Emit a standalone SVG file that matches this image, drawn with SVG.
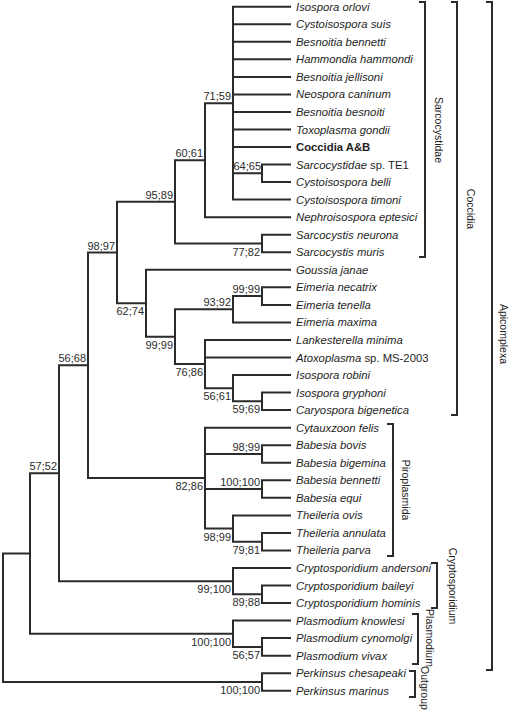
<svg xmlns="http://www.w3.org/2000/svg" width="510" height="713" viewBox="0 0 510 713">
<style>
.e{fill:none;stroke:#2b2b2b;stroke-width:2;stroke-linecap:square}
.t{font-family:"Liberation Sans",Arial,sans-serif;font-size:11.3px;font-style:italic;fill:#1e1e1e}
.u{font-style:normal}
.bold{font-style:normal;font-weight:bold}
.b{font-family:"Liberation Sans",Arial,sans-serif;font-size:11px;fill:#2b2b2b;text-anchor:end}
.g{font-family:"Liberation Sans",Arial,sans-serif;font-size:10.5px;fill:#1e1e1e;text-anchor:middle}
</style>
<rect width="510" height="713" fill="#fff"/>
<g id="connectors">
<path class="e" d="M233,6.7V199.6M233,6.7H290M233,24.2H290M233,41.8H290M233,59.3H290M233,76.9H290M233,94.4H290M233,111.9H290M233,129.5H290M233,147H290M233,199.6H290M233,173.35H262"/>
<path class="e" d="M262,164.6V182.1M262,164.6H290M262,182.1H290"/>
<path class="e" d="M205,103.15V217.2M205,103.15H233M205,217.2H290"/>
<path class="e" d="M262,234.7V252.3M262,234.7H290M262,252.3H290"/>
<path class="e" d="M175,160.2V243.5M175,160.2H205M175,243.5H262"/>
<path class="e" d="M117,201.85V303.25M117,201.85H175M117,303.25H146"/>
<path class="e" d="M146,269.8V336.7M146,269.8H290M146,336.7H175"/>
<path class="e" d="M175,309.25V364.1M175,309.25H233M175,364.1H205"/>
<path class="e" d="M233,296.1V322.4M233,296.1H262M233,322.4H290"/>
<path class="e" d="M262,287.3V304.9M262,287.3H290M262,304.9H290"/>
<path class="e" d="M205,340V388.2M205,340H290M205,357.5H290M205,388.2H233"/>
<path class="e" d="M233,375V401.35M233,375H290M233,401.35H262"/>
<path class="e" d="M262,392.6V410.1M262,392.6H290M262,410.1H290"/>
<path class="e" d="M88,252.55V478.1M88,252.55H117M88,478.1H205"/>
<path class="e" d="M205,427.7V528.5M205,427.7H290M205,453.95H262M205,489.05H262M205,528.5H233"/>
<path class="e" d="M262,445.2V462.7M262,445.2H290M262,462.7H290"/>
<path class="e" d="M262,480.3V497.8M262,480.3H290M262,497.8H290"/>
<path class="e" d="M233,515.4V541.65M233,515.4H290M233,541.65H262"/>
<path class="e" d="M262,532.9V550.4M262,532.9H290M262,550.4H290"/>
<path class="e" d="M59,365.3V581.15M59,365.3H88M59,581.15H233"/>
<path class="e" d="M233,568V594.3M233,568H290M233,594.3H262"/>
<path class="e" d="M262,585.5V603.1M262,585.5H290M262,603.1H290"/>
<path class="e" d="M30,473.2V633.75M30,473.2H59M30,633.75H233"/>
<path class="e" d="M233,620.6V646.9M233,620.6H290M233,646.9H262"/>
<path class="e" d="M262,638.1V655.7M262,638.1H290M262,655.7H290"/>
<path class="e" d="M3,553.5V682M3,553.5H30M3,682H262"/>
<path class="e" d="M262,673.2V690.8M262,673.2H290M262,690.8H290"/>
</g>
<g id="leaves" class="t">
<g id="leaf1"><text x="296" y="10.7">Isospora orlovi</text></g>
<g id="leaf2"><text x="296" y="28.2">Cystoisospora suis</text></g>
<g id="leaf3"><text x="296" y="45.8">Besnoitia bennetti</text></g>
<g id="leaf4"><text x="296" y="63.3">Hammondia hammondi</text></g>
<g id="leaf5"><text x="296" y="80.9">Besnoitia jellisoni</text></g>
<g id="leaf6"><text x="296" y="98.4">Neospora caninum</text></g>
<g id="leaf7"><text x="296" y="115.9">Besnoitia besnoiti</text></g>
<g id="leaf8"><text x="296" y="133.5">Toxoplasma gondii</text></g>
<g id="leaf9"><text x="296" y="151" class="bold">Coccidia A&amp;B</text></g>
<g id="leaf10"><text x="296" y="168.6">Sarcocystidae <tspan class="u">sp. TE1</tspan></text></g>
<g id="leaf11"><text x="296" y="186.1">Cystoisospora belli</text></g>
<g id="leaf12"><text x="296" y="203.6">Cystoisospora timoni</text></g>
<g id="leaf13"><text x="296" y="221.2">Nephroisospora eptesici</text></g>
<g id="leaf14"><text x="296" y="238.7">Sarcocystis neurona</text></g>
<g id="leaf15"><text x="296" y="256.3">Sarcocystis muris</text></g>
<g id="leaf16"><text x="296" y="273.8">Goussia janae</text></g>
<g id="leaf17"><text x="296" y="291.3">Eimeria necatrix</text></g>
<g id="leaf18"><text x="296" y="308.9">Eimeria tenella</text></g>
<g id="leaf19"><text x="296" y="326.4">Eimeria maxima</text></g>
<g id="leaf20"><text x="296" y="344">Lankesterella minima</text></g>
<g id="leaf21"><text x="296" y="361.5">Atoxoplasma <tspan class="u">sp. MS-2003</tspan></text></g>
<g id="leaf22"><text x="296" y="379">Isospora robini</text></g>
<g id="leaf23"><text x="296" y="396.6">Isospora gryphoni</text></g>
<g id="leaf24"><text x="296" y="414.1">Caryospora bigenetica</text></g>
<g id="leaf25"><text x="296" y="431.7">Cytauxzoon felis</text></g>
<g id="leaf26"><text x="296" y="449.2">Babesia bovis</text></g>
<g id="leaf27"><text x="296" y="466.7">Babesia bigemina</text></g>
<g id="leaf28"><text x="296" y="484.3">Babesia bennetti</text></g>
<g id="leaf29"><text x="296" y="501.8">Babesia equi</text></g>
<g id="leaf30"><text x="296" y="519.4">Theileria ovis</text></g>
<g id="leaf31"><text x="296" y="536.9">Theileria annulata</text></g>
<g id="leaf32"><text x="296" y="554.4">Theileria parva</text></g>
<g id="leaf33"><text x="296" y="572">Cryptosporidium andersoni</text></g>
<g id="leaf34"><text x="296" y="589.5">Cryptosporidium baileyi</text></g>
<g id="leaf35"><text x="296" y="607.1">Cryptosporidium hominis</text></g>
<g id="leaf36"><text x="296" y="624.6">Plasmodium knowlesi</text></g>
<g id="leaf37"><text x="296" y="642.1">Plasmodium cynomolgi</text></g>
<g id="leaf38"><text x="296" y="659.7">Plasmodium vivax</text></g>
<g id="leaf39"><text x="296" y="677.2">Perkinsus chesapeaki</text></g>
<g id="leaf40"><text x="296" y="694.8">Perkinsus marinus</text></g>
</g>
<g id="support" class="b">
<g id="nA"><text x="261" y="170.4">64;65</text></g>
<g id="nB"><text x="231" y="100.2">71;59</text></g>
<g id="nC"><text x="203" y="157.2">60;61</text></g>
<g id="nD"><text x="260" y="255.5">77;82</text></g>
<g id="nE"><text x="173" y="198.9">95;89</text></g>
<g id="nF"><text x="260" y="293.1">99;99</text></g>
<g id="nG"><text x="231" y="306.3">93;92</text></g>
<g id="nH"><text x="260" y="413.4">59;69</text></g>
<g id="nI"><text x="231" y="400.2">56;61</text></g>
<g id="nJ"><text x="203" y="376.1">76;86</text></g>
<g id="nK"><text x="173" y="348.7">99;99</text></g>
<g id="nL"><text x="144" y="315.3">62;74</text></g>
<g id="nM"><text x="115" y="249.6">98;97</text></g>
<g id="nN"><text x="260" y="451">98;99</text></g>
<g id="nO"><text x="260" y="486">100;100</text></g>
<g id="nP"><text x="260" y="553.7">79;81</text></g>
<g id="nQ"><text x="231" y="540.5">98;99</text></g>
<g id="nR"><text x="203" y="490.1">82;86</text></g>
<g id="nS"><text x="86" y="362.3">56;68</text></g>
<g id="nT"><text x="260" y="606.3">89;88</text></g>
<g id="nU"><text x="231" y="593.2">99;100</text></g>
<g id="nV"><text x="57" y="470.2">57;52</text></g>
<g id="nW"><text x="260" y="658.9">56;57</text></g>
<g id="nX"><text x="231" y="645.8">100;100</text></g>
<g id="nZ"><text x="260" y="694">100;100</text></g>
</g>
<g id="groups">
<g id="Sarcocystidae"><path class="e" d="M420,2H425V257H420"/><text class="g" transform="translate(434.5,130) rotate(90)">Sarcocystidae</text></g>
<g id="Coccidia"><path class="e" d="M452,2H457V415H452"/><text class="g" transform="translate(466.5,209) rotate(90)">Coccidia</text></g>
<g id="Apicomplexa"><path class="e" d="M487,2H492V670H487"/><text class="g" transform="translate(499.5,334) rotate(90)">Apicomplexa</text></g>
<g id="Piroplasmida"><path class="e" d="M388,424H393V556H388"/><text class="g" transform="translate(402,490) rotate(90)">Piroplasmida</text></g>
<g id="Cryptosporidium"><path class="e" d="M432,563H437V608H432"/><text class="g" transform="translate(449,586) rotate(90)">Cryptosporidium</text></g>
<g id="Plasmodium"><path class="e" d="M413,614H418V664H413"/><text class="g" transform="translate(425.5,638) rotate(90)">Plasmodium</text></g>
<g id="Outgroup"><path class="e" d="M410,671H415V697H410"/><text class="g" transform="translate(421,688) rotate(90)">Outgroup</text></g>
</g>
</svg>
